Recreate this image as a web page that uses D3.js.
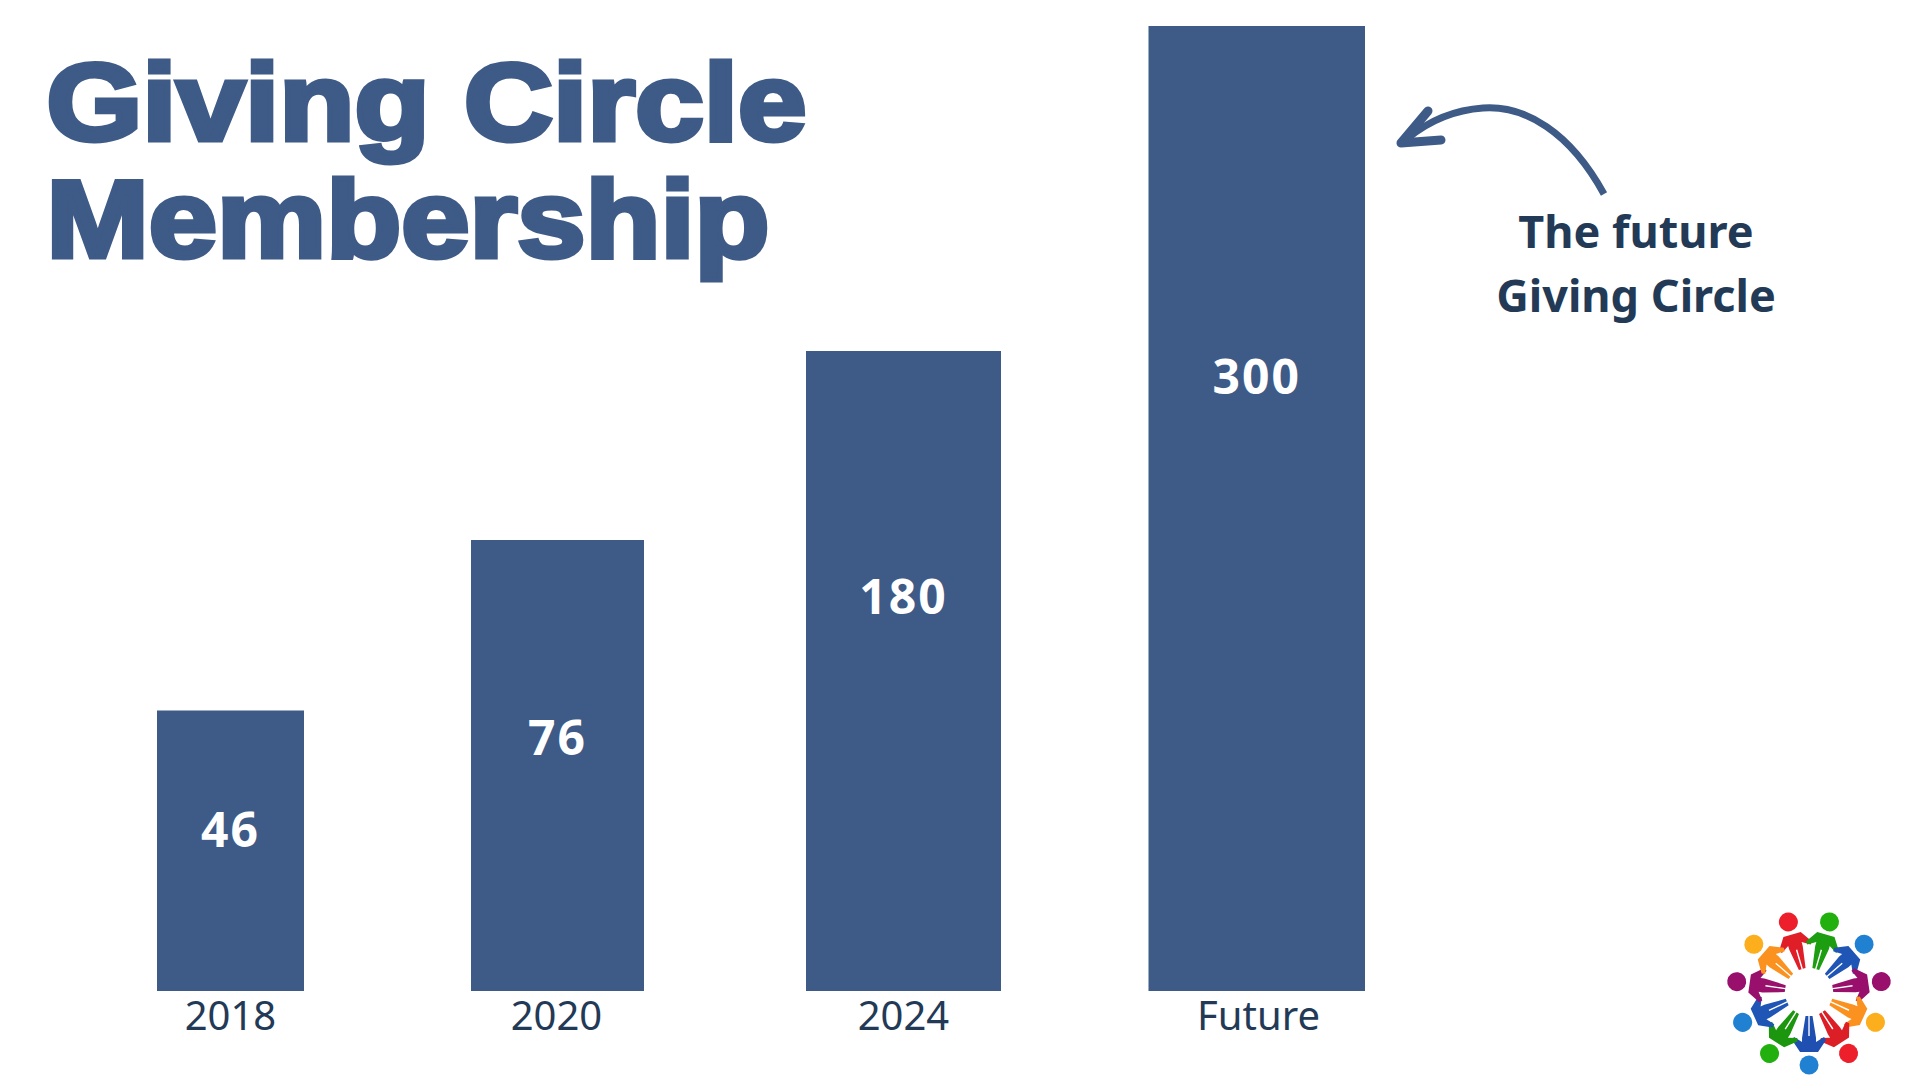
<!DOCTYPE html>
<html><head><meta charset="utf-8">
<script src="https://cdn.jsdelivr.net/npm/d3@7"></script>
<style>html,body{margin:0;padding:0;background:#fff;overflow:hidden}svg{display:block}</style>
</head><body><svg id="chart" width="1920" height="1080"></svg>
<script>
const categories = ["2018", "2020", "2024", "Future"];
const values = [46, 76, 180, 300];
const titleLines = ["Giving Circle", "Membership"];
const noteLines = ["The future", "Giving Circle"];
const logoColors = ["#e01e28","#1c9e10","#1f55b5","#980f6c","#fb9220","#dc1f26","#1f4fb0","#1c960f","#1f55b5","#980f6c","#fb9220"];
const logoHeads  = ["#ec1f2b","#22b00e","#2080d2","#980f6c","#fdae1c","#ec1f2b","#2080d2","#22b00e","#2080d2","#980f6c","#fdae1c"];

const BAR = "#3e5a87", INK = "#233a57";
const svg = d3.select("#chart");

// The source is an infographic: bars are not to a strict linear scale, so the
// scale is piecewise through each value.
const y = d3.scaleLinear().domain([0, ...values]).range([991, 710.5, 540, 351, 26]);
const left = d3.scaleOrdinal(categories, [157, 471, 806, 1148.5]);
const right = d3.scaleOrdinal(categories, [304, 644, 1001, 1365]);
const tickX = d3.scaleOrdinal(categories, [230, 556, 903, 1258]);
const labelY = d3.scaleOrdinal(categories, [828.5, 736.5, 595.5, 375.5]);

svg.selectAll("rect.bar").data(categories).join("rect").attr("class","bar")
  .attr("x", d => left(d)).attr("width", d => right(d) - left(d))
  .attr("y", (d,i) => y(values[i])).attr("height", (d,i) => y(0) - y(values[i]))
  .attr("fill", BAR);

svg.selectAll("text.val").data(categories).join("text").attr("class","val")
  .attr("x", d => (left(d) + right(d)) / 2).attr("y", d => labelY(d))
  .attr("text-anchor","middle").attr("dominant-baseline","central")
  .attr("font-family","'Noto Sans'").attr("font-weight",700).attr("font-size",48)
  .attr("letter-spacing",2)
  .attr("fill","#fff").text((d,i) => values[i]);

const axis = svg.append("g").attr("transform","translate(0,991)")
  .call(d3.axisBottom(tickX).tickSize(0).tickPadding(0));
axis.select(".domain").remove();
axis.selectAll("text").attr("y",0).attr("dy",0).attr("transform","translate(0,39)")
  .attr("font-family","'Noto Sans'").attr("font-size",40).attr("fill",INK);

const titleW = [760, 723], titleBase = [140, 257];
svg.selectAll("text.title").data(titleLines).join("text").attr("class","title")
  .attr("x",46.5).attr("y",(d,i)=>titleBase[i])
  .attr("font-family","'Liberation Sans'").attr("font-weight",700).attr("font-size",109)
  .attr("fill",BAR).attr("stroke",BAR).attr("stroke-width",5).attr("stroke-linejoin","miter")
  .attr("textLength",(d,i)=>titleW[i]).attr("lengthAdjust","spacingAndGlyphs").text(d=>d);

const noteBase = [248, 312];
svg.selectAll("text.note").data(noteLines).join("text").attr("class","note")
  .attr("x",1636).attr("y",(d,i)=>noteBase[i]).attr("text-anchor","middle")
  .attr("font-family","'Noto Sans'").attr("font-weight",700).attr("font-size",45)
  .attr("fill",INK).text(d=>d);

// arrow
const arrow = svg.append("g").attr("fill","none").attr("stroke",BAR).attr("stroke-linejoin","round");
arrow.append("path").attr("d","M1604,194 C1570,132 1525,105 1483,108 C1455,110 1430,120 1408,138").attr("stroke-width",7);
arrow.append("path").attr("d","M1428,111 L1401,143 L1441,140").attr("stroke-width",9).attr("stroke-linecap","round");

// logo
const logo = svg.append("g").attr("transform","translate(1809,992)");
const bodyPath = "M-3.5,24 L-0.7,24 L-0.7,44 L0.7,44 L0.7,24 L3.5,24 L7,46 L7,50 L15,45 L17,48 L9,60 L-9,60 L-17,48 L-15,45 L-7,50 L-7,46 Z";
logoColors.forEach((c,i) => {
  const g = logo.append("g").attr("transform",`rotate(${-16.4 + i*360/11 + 180})`);
  g.append("path").attr("d",bodyPath).attr("fill",c);
  g.append("circle").attr("cy",73).attr("r",9.5).attr("fill",logoHeads[i]);
});
</script></body></html>
